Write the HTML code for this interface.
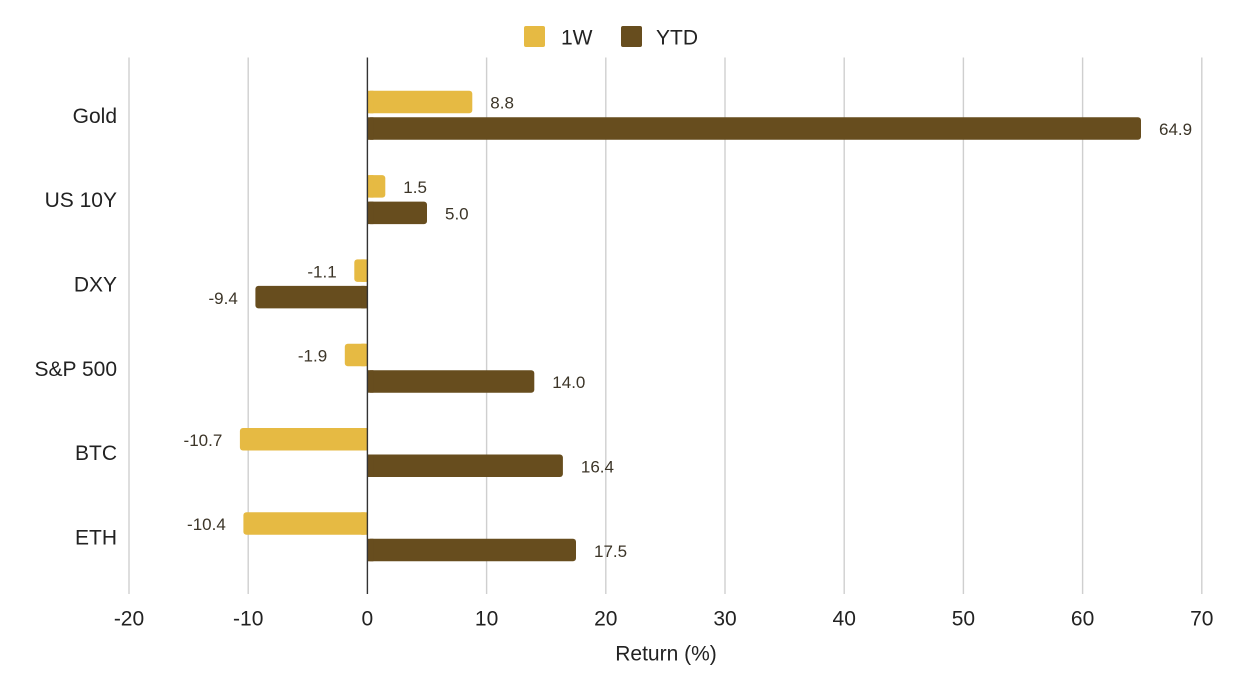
<!DOCTYPE html>
<html>
<head>
<meta charset="utf-8">
<style>
html,body{margin:0;padding:0;background:#fff;}
svg{display:block;}
.cat{font-family:"Liberation Sans",Arial,sans-serif;font-size:21px;fill:#222;}
.tick{font-family:"Liberation Sans",Arial,sans-serif;font-size:21px;fill:#222;}
.lbl{font-family:"Liberation Sans",Arial,sans-serif;font-size:17px;fill:#3c3528;}
.g{fill:#E6BA43;}
.b{fill:#674D1E;}
</style>
</head>
<body>
<svg width="1246" height="688" viewBox="0 0 1246 688" xmlns="http://www.w3.org/2000/svg">
<rect width="1246" height="688" fill="#fff"/>
<!-- legend -->
<rect x="524" y="26" width="21" height="21" rx="2" class="g"/>
<text x="561" y="44.5" class="cat">1W</text>
<rect x="621" y="26" width="21" height="21" rx="2" class="b"/>
<text x="656" y="44.5" class="cat">YTD</text>

<!-- gridlines -->
<g stroke="#cfcfcf" stroke-width="1.4">
<line x1="129" y1="57.5" x2="129" y2="594"/>
<line x1="248.2" y1="57.5" x2="248.2" y2="594"/>
<line x1="486.6" y1="57.5" x2="486.6" y2="594"/>
<line x1="605.8" y1="57.5" x2="605.8" y2="594"/>
<line x1="725" y1="57.5" x2="725" y2="594"/>
<line x1="844.2" y1="57.5" x2="844.2" y2="594"/>
<line x1="963.4" y1="57.5" x2="963.4" y2="594"/>
<line x1="1082.6" y1="57.5" x2="1082.6" y2="594"/>
<line x1="1201.8" y1="57.5" x2="1201.8" y2="594"/>
</g>

<!-- bars -->
<rect x="367.4" y="90.8" width="104.9" height="22.5" rx="3" class="g"/><rect x="367.4" y="90.8" width="6" height="22.5" class="g"/>
<rect x="367.4" y="117.3" width="773.6" height="22.5" rx="3" class="b"/><rect x="367.4" y="117.3" width="6" height="22.5" class="b"/>
<rect x="367.4" y="175.1" width="17.9" height="22.5" rx="3" class="g"/><rect x="367.4" y="175.1" width="6" height="22.5" class="g"/>
<rect x="367.4" y="201.6" width="59.6" height="22.5" rx="3" class="b"/><rect x="367.4" y="201.6" width="6" height="22.5" class="b"/>
<rect x="354.3" y="259.4" width="13.1" height="22.5" rx="3" class="g"/><rect x="361.4" y="259.4" width="6" height="22.5" class="g"/>
<rect x="255.4" y="285.9" width="112" height="22.5" rx="3" class="b"/><rect x="361.4" y="285.9" width="6" height="22.5" class="b"/>
<rect x="344.8" y="343.7" width="22.6" height="22.5" rx="3" class="g"/><rect x="361.4" y="343.7" width="6" height="22.5" class="g"/>
<rect x="367.4" y="370.2" width="166.9" height="22.5" rx="3" class="b"/><rect x="367.4" y="370.2" width="6" height="22.5" class="b"/>
<rect x="239.9" y="428" width="127.5" height="22.5" rx="3" class="g"/><rect x="361.4" y="428" width="6" height="22.5" class="g"/>
<rect x="367.4" y="454.5" width="195.5" height="22.5" rx="3" class="b"/><rect x="367.4" y="454.5" width="6" height="22.5" class="b"/>
<rect x="243.4" y="512.3" width="124" height="22.5" rx="3" class="g"/><rect x="361.4" y="512.3" width="6" height="22.5" class="g"/>
<rect x="367.4" y="538.8" width="208.6" height="22.5" rx="3" class="b"/><rect x="367.4" y="538.8" width="6" height="22.5" class="b"/>

<!-- zero axis -->
<line x1="367.4" y1="57.5" x2="367.4" y2="594" stroke="#333" stroke-width="1.4"/>

<!-- data labels -->
<text x="490.3" y="108.7" class="lbl">8.8</text>
<text x="1159" y="135.2" class="lbl">64.9</text>
<text x="403.3" y="193.1" class="lbl">1.5</text>
<text x="445" y="219.6" class="lbl">5.0</text>
<text x="336.7" y="277.4" class="lbl" text-anchor="end">-1.1</text>
<text x="237.8" y="303.9" class="lbl" text-anchor="end">-9.4</text>
<text x="327.2" y="361.7" class="lbl" text-anchor="end">-1.9</text>
<text x="552.3" y="388.2" class="lbl">14.0</text>
<text x="222.3" y="446" class="lbl" text-anchor="end">-10.7</text>
<text x="580.9" y="472.5" class="lbl">16.4</text>
<text x="225.8" y="530.2" class="lbl" text-anchor="end">-10.4</text>
<text x="594" y="556.8" class="lbl">17.5</text>

<!-- category labels -->
<g class="cat" text-anchor="end">
<text x="117" y="122.8">Gold</text>
<text x="117" y="207.1">US 10Y</text>
<text x="117" y="291.5">DXY</text>
<text x="117" y="375.8">S&amp;P 500</text>
<text x="117" y="460.1">BTC</text>
<text x="117" y="544.5">ETH</text>
</g>

<!-- tick labels -->
<g class="tick" text-anchor="middle">
<text x="129" y="625.5">-20</text>
<text x="248.2" y="625.5">-10</text>
<text x="367.4" y="625.5">0</text>
<text x="486.6" y="625.5">10</text>
<text x="605.8" y="625.5">20</text>
<text x="725" y="625.5">30</text>
<text x="844.2" y="625.5">40</text>
<text x="963.4" y="625.5">50</text>
<text x="1082.6" y="625.5">60</text>
<text x="1201.8" y="625.5">70</text>
</g>

<!-- axis title -->
<text x="666" y="660.5" class="tick" text-anchor="middle">Return (%)</text>
</svg>
</body>
</html>
